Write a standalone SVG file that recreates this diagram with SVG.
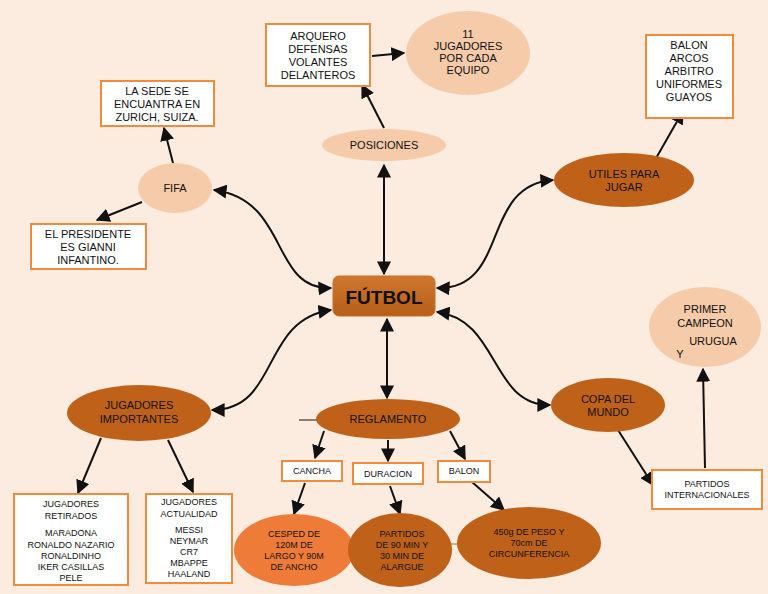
<svg xmlns="http://www.w3.org/2000/svg" width="768" height="594" viewBox="0 0 768 594">
<defs>
<marker id="a" viewBox="0 0 10 10" refX="9" refY="5" markerWidth="7" markerHeight="7" orient="auto-start-reverse"><path d="M0,0L10,5L0,10z" fill="#111"/></marker>
<linearGradient id="g" x1="0" y1="0" x2="0" y2="1"><stop offset="0" stop-color="#d0772e"/><stop offset="1" stop-color="#b65d18"/></linearGradient>
</defs>
<style>
text{font-family:"Liberation Sans",Arial,sans-serif;font-size:11px;fill:#111;text-anchor:middle}
.s{font-size:9px}
.dk{fill:#bf6119}
.lt{fill:#f6cba9}
.bx{fill:#fff;stroke:#f08a3c;stroke-width:2}
.c{fill:none;stroke:#111;stroke-width:2;marker-end:url(#a)}
.d{marker-start:url(#a)}
</style>
<rect width="768" height="594" fill="#fcebdf"/>
<g id="connectors">
<path class="c d" d="M384,165 L384,274"/>
<path class="c d" d="M331,288 C270,290 290,200 214,190"/>
<path class="c d" d="M437,288 C510,290 480,185 553,180"/>
<path class="c d" d="M331,310 C260,320 280,410 212,410"/>
<path class="c d" d="M437,312 C500,320 490,405 550,405"/>
<path class="c d" d="M387,319 L387,398"/>
<path class="c" d="M384,128 L362,85"/>
<path class="c" d="M372,56 L404,53"/>
<path class="c" d="M173,163 L164,128"/>
<path class="c" d="M142,202 L97,220"/>
<path class="c" d="M655,160 L683,111"/>
<path class="c" d="M705,468 L703,369"/>
<path class="c" d="M618,430 L653,485"/>
<path class="c" d="M101,438 L78,493"/>
<path class="c" d="M168,440 L193,492"/>
<path class="c" d="M324,431 L315,458"/>
<path class="c" d="M388,440 L388,461"/>
<path class="c" d="M450,431 L465,459"/>
<path class="c" d="M305,483 L294,514"/>
<path class="c" d="M390,486 L400,514"/>
<path class="c" d="M472,482 L504,510"/>
<path d="M299,420 L333,420" stroke="#111" stroke-width="1"/>
<path d="M333,550 L368,550 M440,544 L475,544" stroke="#9db05a" stroke-width="1.5"/>
</g>
<g id="futbol"><rect x="333" y="276" width="102" height="40" rx="6" fill="url(#g)" stroke="#c8702c"/><text x="384" y="304" style="font-size:19px;font-weight:bold">FÚTBOL</text></g>
<g id="posiciones"><ellipse cx="384" cy="145" rx="62" ry="16" class="lt"/><text x="384" y="149">POSICIONES</text></g>
<g id="jugadores11"><ellipse cx="468" cy="53" rx="62" ry="42" class="lt"/><text x="468" y="38">11</text><text x="468" y="50">JUGADORES</text><text x="468" y="62">POR CADA</text><text x="468" y="74">EQUIPO</text></g>
<g id="arquero"><rect x="266" y="24" width="104" height="62" class="bx"/><text x="318" y="40">ARQUERO</text><text x="318" y="53">DEFENSAS</text><text x="318" y="66">VOLANTES</text><text x="318" y="79">DELANTEROS</text></g>
<g id="fifa"><ellipse cx="175" cy="188" rx="37" ry="25" class="lt"/><text x="175" y="192">FIFA</text></g>
<g id="sede"><rect x="101" y="81" width="113" height="45" class="bx"/><text x="157" y="95">LA SEDE SE</text><text x="157" y="108">ENCUANTRA EN</text><text x="157" y="121">ZURICH, SUIZA.</text></g>
<g id="presidente"><rect x="31" y="224" width="115" height="45" class="bx"/><text x="88" y="238">EL PRESIDENTE</text><text x="88" y="251">ES GIANNI</text><text x="88" y="264">INFANTINO.</text></g>
<g id="utiles"><ellipse cx="624" cy="180" rx="70" ry="27" class="dk"/><text x="624" y="178">UTILES PARA</text><text x="624" y="191">JUGAR</text></g>
<g id="balonlist"><rect x="646" y="35" width="87" height="83" class="bx"/><text x="689" y="49">BALON</text><text x="689" y="62">ARCOS</text><text x="689" y="75">ARBITRO</text><text x="689" y="88">UNIFORMES</text><text x="689" y="101">GUAYOS</text></g>
<g id="campeon"><ellipse cx="705" cy="327" rx="56" ry="40" class="lt"/><text x="705" y="313">PRIMER</text><text x="705" y="327">CAMPEON</text><text x="713" y="345">URUGUA</text><text x="680" y="358">Y</text></g>
<g id="copa"><ellipse cx="608" cy="405" rx="57" ry="27" class="dk"/><text x="608" y="403">COPA DEL</text><text x="608" y="416">MUNDO</text></g>
<g id="internacionales"><rect x="652" y="470" width="110" height="39" class="bx"/><text x="707" y="487" class="s">PARTIDOS</text><text x="707" y="498" class="s">INTERNACIONALES</text></g>
<g id="importantes"><ellipse cx="139" cy="413" rx="72" ry="28" class="dk"/><text x="139" y="409">JUGADORES</text><text x="139" y="423">IMPORTANTES</text></g>
<g id="retirados"><rect x="14" y="494" width="114" height="91" class="bx"/><text x="71" y="507" class="s">JUGADORES</text><text x="71" y="519" class="s">RETIRADOS</text><text x="71" y="536" class="s">MARADONA</text><text x="71" y="548" class="s">RONALDO NAZARIO</text><text x="71" y="559" class="s">RONALDINHO</text><text x="71" y="570" class="s">IKER CASILLAS</text><text x="71" y="581" class="s">PELE</text></g>
<g id="actualidad"><rect x="146" y="494" width="86" height="89" class="bx"/><text x="189" y="505" class="s">JUGADORES</text><text x="189" y="517" class="s">ACTUALIDAD</text><text x="189" y="533" class="s">MESSI</text><text x="189" y="544" class="s">NEYMAR</text><text x="189" y="555" class="s">CR7</text><text x="189" y="566" class="s">MBAPPE</text><text x="189" y="577" class="s">HAALAND</text></g>
<g id="reglamento"><ellipse cx="388" cy="419" rx="72" ry="20" class="dk"/><text x="388" y="423">REGLAMENTO</text></g>
<g id="cancha"><rect x="282" y="461" width="60" height="20" class="bx"/><text x="312" y="474" class="s">CANCHA</text></g>
<g id="duracion"><rect x="353" y="463" width="70" height="21" class="bx"/><text x="388" y="477" class="s">DURACION</text></g>
<g id="balon"><rect x="438" y="461" width="52" height="21" class="bx"/><text x="464" y="474" class="s">BALON</text></g>
<g id="cesped"><ellipse cx="294" cy="550" rx="60" ry="36" fill="#ee7b38"/><text x="294" y="537" class="s">CESPED DE</text><text x="294" y="548" class="s">120M DE</text><text x="294" y="559" class="s">LARGO Y 90M</text><text x="294" y="570" class="s">DE ANCHO</text></g>
<g id="partidos"><ellipse cx="400" cy="550" rx="52" ry="37" class="dk"/><text x="402" y="537" class="s">PARTIDOS</text><text x="402" y="548" class="s">DE 90 MIN Y</text><text x="402" y="559" class="s">30 MIN DE</text><text x="402" y="570" class="s">ALARGUE</text></g>
<g id="peso"><ellipse cx="529" cy="543" rx="72" ry="36" class="dk"/><text x="529" y="535" class="s">450g DE PESO Y</text><text x="529" y="546" class="s">70cm DE</text><text x="529" y="557" class="s">CIRCUNFERENCIA</text></g>
</svg>
